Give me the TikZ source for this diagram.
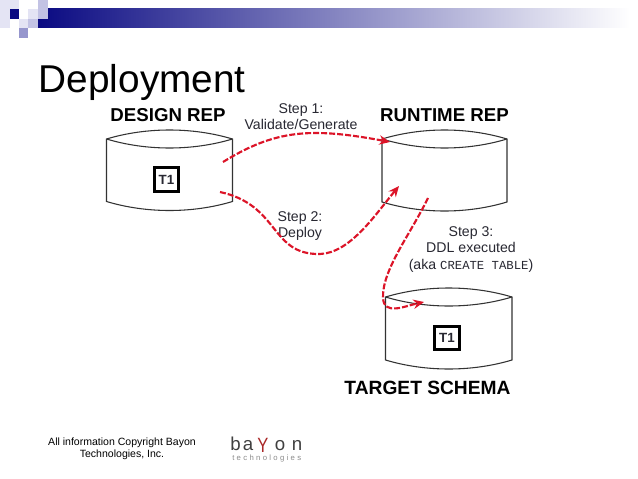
\documentclass[tikz,border=0pt]{standalone}
\usepackage{fontspec}
\setmainfont{Liberation Sans}
\newfontfamily\codefont{Liberation Mono}
\usetikzlibrary{arrows.meta,shadings}
\definecolor{navy}{RGB}{10,10,130}
\definecolor{sqa}{RGB}{150,150,205}
\definecolor{sqb}{RGB}{195,195,228}
\definecolor{sqc}{RGB}{228,228,244}
\definecolor{redline}{RGB}{220,20,40}
\definecolor{labelink}{RGB}{40,40,50}
\definecolor{logored}{RGB}{170,40,40}
\tikzset{
  x=0.75pt,y=-0.75pt,
  cyl/.style={draw=black!80,line width=0.8pt,fill=white},
  tbox/.style={draw=black,line width=2.1pt,minimum width=18.5pt,minimum height=17.5pt,inner sep=0pt,font=\bfseries\fontsize{10}{12}\selectfont,text=labelink},
  reptitle/.style={font=\bfseries\fontsize{14}{16}\selectfont,text=black,inner sep=0pt},
  steplabel/.style={align=center,font=\fontsize{10.6}{12.2}\selectfont,text=labelink,inner sep=0pt},
  flow/.style={draw=redline,line width=1.6pt,dash pattern=on 4.5pt off 1.5pt,-{Stealth[length=8pt,width=7pt]}},
  logoletter/.style={anchor=base,inner sep=0pt,font=\fontsize{14}{16}\selectfont,text=black!75},
}
\newcommand{\cylshape}[5]{% left right top bottom name
  \draw[cyl] (#1,#3) .. controls ({#1+40},{#3-12}) and ({#2-40},{#3-12}) .. (#2,#3)
     -- (#2,#4) .. controls ({#2-40},{#4+12}) and ({#1+40},{#4+12}) .. (#1,#4) -- cycle;
  \draw[cyl] (#1,#3) .. controls ({#1+40},{#3+12}) and ({#2-40},{#3+12}) .. (#2,#3);
  \coordinate (#5) at ({(#1+#2)/2},{(#3+#4)/2});
}
\begin{document}
\begin{tikzpicture}
\useasboundingbox (0,0) rectangle (638,478);
\fill[white] (0,0) rectangle (638,478);
% header
\shade[left color=navy,right color=white] (38,9) rectangle (630,28);
\fill[sqc] (0,0) rectangle (19,9.5);
\fill[sqc] (0,9.5) rectangle (9.5,28);
\fill[sqb] (38,0) rectangle (48,9);
\fill[sqc] (28,9) rectangle (38,19);
\fill[sqb] (38,9) rectangle (48,19);
\fill[navy] (9.5,9.5) rectangle (19,19);
\fill[sqc] (19,19) rectangle (28,28);
\fill[sqb] (28,19) rectangle (38,28);
\fill[sqa] (19,28) rectangle (28,38);
% title
\node[anchor=base west,inner sep=0pt,font=\fontsize{29.1}{36}\selectfont] (title) at (38.5,92.5) {Deployment};
% cylinders
\cylshape{106.5}{232.5}{139}{201.5}{design}
\cylshape{382}{507}{139}{202}{runtime}
\cylshape{385.5}{512}{297}{360}{target}
% titles
\node[reptitle] (designt) at (168,115) {DESIGN REP};
\node[reptitle] (runtimet) at (444.5,115) {RUNTIME REP};
\node[reptitle,font=\bfseries\fontsize{14.4}{16}\selectfont] (targett) at (427.5,388) {TARGET SCHEMA};
% tables
\node[tbox] (t1a) at (166.5,179.5) {T1};
\node[tbox] (t1b) at (447,338) {T1};
% labels
\node[steplabel] (s1) at (301,117) {Step 1:\\Validate/Generate};
\node[steplabel] (s2) at (300,226) {Step 2:\\Deploy};
\node[steplabel] (s3) at (471,249.5) {Step 3:\\DDL executed\\(aka {\codefont\fontsize{9.2}{12}\selectfont CREATE TABLE})};
% connectors
\coordinate (a1) at (223,162);
\coordinate (a2) at (390,142);
\coordinate (b1) at (220,192);
\coordinate (b2) at (399,186);
\coordinate (c1) at (428,198);
\coordinate (c2) at (424,302);
\draw[flow] (a1) .. controls (275,130) and (310,127) .. (a2);
\draw[flow] (b1) .. controls (280,205) and (270,255) .. (320,254) .. controls (350,253) and (375,215) .. (b2);
\draw[flow] (c1) .. controls (410,235) and (382,270) .. (383,298) .. controls (384,316) and (405,306) .. (c2);
% footer
\node[align=center,font=\fontsize{7.9}{9}\selectfont,inner sep=0pt] (copy) at (122,449) {All information Copyright Bayon\\Technologies, Inc.};
\node[logoletter] (lb) at (235.5,450) {b};
\node[logoletter] (la) at (248,450) {a};
\node[logoletter,font=\fontsize{15.5}{18}\selectfont,text=logored,xscale=0.8] (ly) at (263,452) {Y};
\node[logoletter] (lo) at (280,450) {o};
\node[logoletter] (ln) at (297,450) {n};
\node[anchor=base west,inner sep=0pt,font=\fontsize{5.8}{8}\selectfont\addfontfeature{LetterSpace=30},text=black!45] (lt) at (232,460) {technologies};
\end{tikzpicture}
\end{document}
